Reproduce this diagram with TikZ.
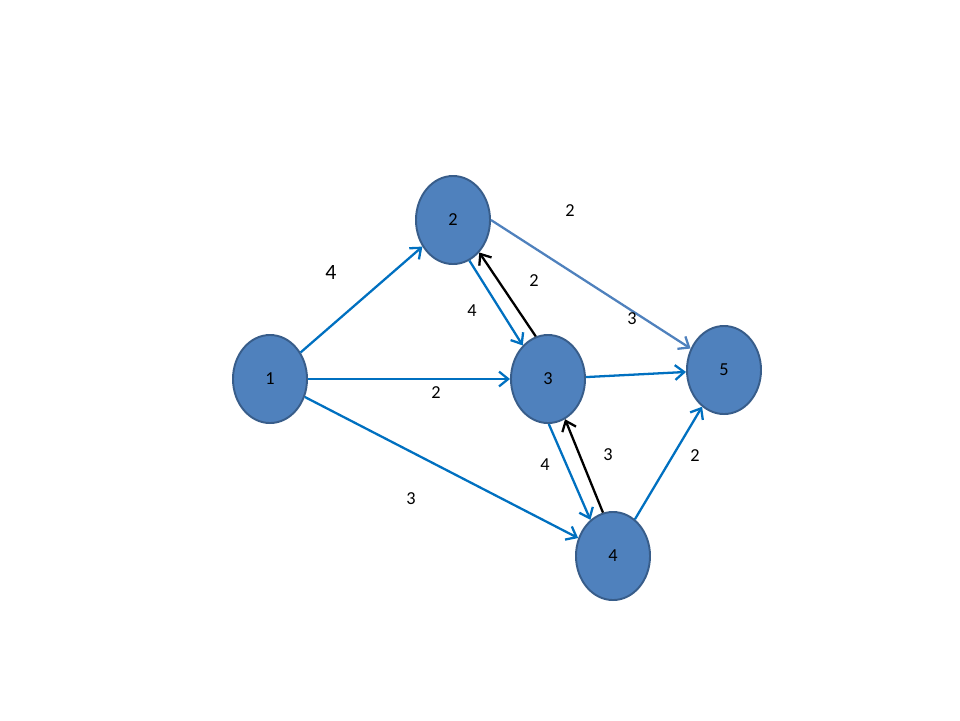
\documentclass[tikz,border=0pt]{standalone}
\usepackage{fontspec}
\setmainfont{Carlito}
\usetikzlibrary{shapes.geometric,arrows.meta}
\definecolor{nfill}{HTML}{4F81BD}
\definecolor{nedge}{HTML}{385D8A}
\definecolor{eblue}{HTML}{0070C0}
\begin{document}
\begin{tikzpicture}[x=0.01cm,y=-0.01cm,
  vtx/.style={ellipse,fill=nfill,draw=nedge,line width=0.55pt,minimum width=0.74cm,minimum height=0.88cm,inner sep=0pt,font=\fontsize{5.2pt}{6pt}\selectfont},
  edg/.style={draw=eblue,line width=0.65pt,-{Straight Barb[length=2.6pt,width=4.2pt,line width=0.65pt]}},
  blk/.style={edg,draw=black},
  lbl/.style={font=\fontsize{5.2pt}{6pt}\selectfont}]
\useasboundingbox (0,0) rectangle (960,720);
\node[vtx] (n1) at (270,379) {1};
\node[vtx] (n2) at (453,220) {2};
\node[vtx] (n3) at (548,379) {3};
\node[vtx] (n4) at (613,556) {4};
\node[vtx] (n5) at (724,370) {5};
\draw[edg] (n1) -- (n2);
\draw[edg] (n1) -- (n3);
\draw[edg] (n1) -- (n4);
\draw[edg] (n2.-68) -- (n3.127);
\draw[blk] (n3.106) -- (n2.-51);
\draw[edg,draw=nfill] (n2.east) -- (n5);
\draw[edg] (n3) -- (n5);
\draw[edg] (n3.-89) -- (n4.122);
\draw[blk] (n4.103) -- (n3.-67);
\draw[edg] (n4) -- (n5);
\node[lbl,font=\fontsize{6.2pt}{7pt}\selectfont] (l12) at (331,272) {4};
\node[lbl] (l13) at (436,393) {2};
\node[lbl] (l14) at (411,499) {3};
\node[lbl] (l23) at (472,311) {4};
\node[lbl] (l32) at (534,281) {2};
\node[lbl] (l25a) at (570,211) {2};
\node[lbl] (l25b) at (632,319) {3};
\node[lbl] (l34) at (545,465) {4};
\node[lbl] (l43) at (608,455) {3};
\node[lbl] (l45) at (695,456) {2};
\end{tikzpicture}
\end{document}
